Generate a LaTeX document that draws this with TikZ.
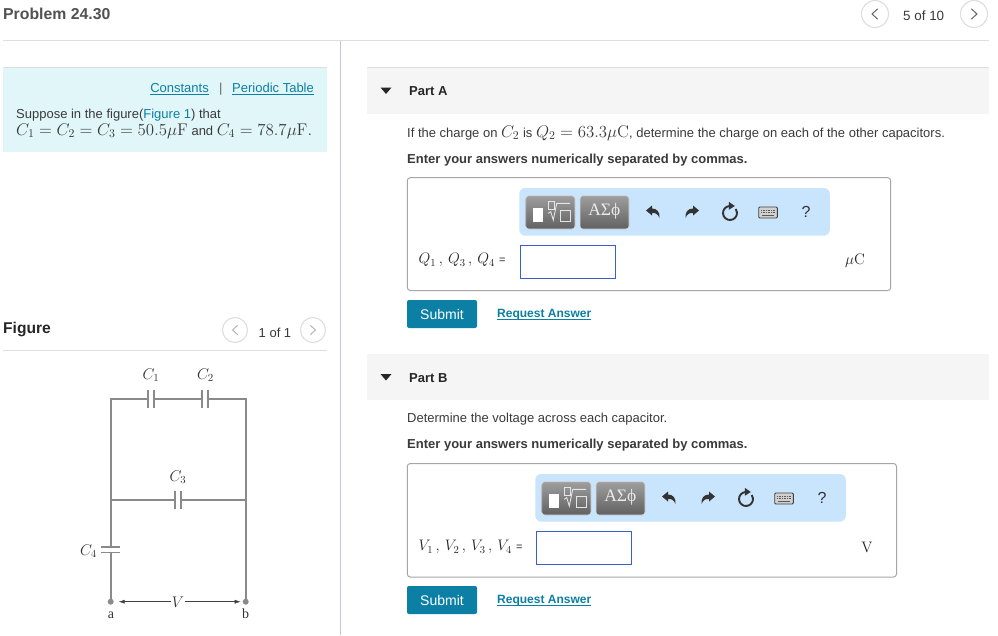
\documentclass[tikz,border=0pt]{standalone}
\usepackage{fix-cm}
\usepackage{amsmath}
\usepackage[no-math]{fontspec}
\setmainfont{Liberation Sans}
\newfontfamily\symfont{Liberation Serif}
\usepackage{tikz}
\usetikzlibrary{arrows.meta,calc,positioning}
\definecolor{linkblue}{HTML}{0B80A4}
\definecolor{bodygray}{HTML}{3A3A3A}
\definecolor{rulegray}{HTML}{DEDEDE}
\definecolor{wiregray}{HTML}{8A8A8A}
\definecolor{panelcyan}{HTML}{E1F6F8}
\definecolor{bandgray}{HTML}{F5F5F5}
\definecolor{barblue}{HTML}{C9E4FD}
\definecolor{inputblue}{HTML}{3A5FCD}
\tikzset{
    txt/.style = {anchor=west, inner sep=0pt, text=bodygray, font=\fontsize{13}{15}\selectfont},
    bold/.style = {txt, font=\fontsize{13}{15}\selectfont\bfseries},
    link/.style = {txt, text=linkblue},
    mathlab/.style = {inner sep=0pt, text=black!85, font=\fontsize{15.2}{17}\selectfont},
    circlab/.style = {inner sep=0pt, text=black!80, font=\fontsize{15.5}{17}\selectfont},
    wire/.style = {draw=wiregray, line width=2.2pt},
    thinwire/.style = {draw=wiregray, line width=1.5pt},
    plate/.style = {draw=wiregray, line width=1.9pt},
    rule/.style = {draw=rulegray, line width=1pt},
    band/.style = {fill=bandgray, draw=none},
    pager/.style = {circle, draw=rulegray, fill=white, line width=1.1pt, minimum size=#1, inner sep=0pt},
    chevron/.style = {draw=black!60, line width=1pt, line cap=round},
    fadedchevron/.style = {draw=black!28, line width=1pt, line cap=round},
    answerbox/.style = {draw=black!35, fill=white, rounded corners=3pt, line width=1pt},
    inputbox/.style = {draw=inputblue, fill=white, line width=1pt},
    submitbtn/.style = {fill=linkblue, rounded corners=2pt, text=white, minimum width=70pt, minimum height=28pt, inner sep=0pt, font=\fontsize{14}{16}\selectfont},
    toolbtn/.style = {top color=black!38, bottom color=black!62, draw=white!85!black, rounded corners=3pt, line width=0.6pt},
    undoicon/.pic = {
      \fill[black!80] (-7,-1.5) -- (-1,-6.5) -- (-1,-3.5) .. controls (4,-3.5) and (7,0) .. (6.5,6)
        .. controls (5,2.5) and (3,0.5) .. (-1,1) -- (-1,3.5) -- cycle;
    },
    toolbar/.pic = {
      \fill[barblue, rounded corners=6pt] (0,0) rectangle (310.5,47.7);
      \path[toolbtn] (6.4,7.7) rectangle (55.7,41);
      \path[toolbtn] (60.7,7.7) rectangle (109.7,41);
      % root button
      \fill[white] (13.4,19.7) rectangle (23.7,34);
      \draw[white!90!black, line width=0.7pt] (29.4,13.7) rectangle (34.7,21.3);
      \draw[white!90!black, line width=0.7pt] (41,22.7) rectangle (50.7,33.7);
      \draw[white!90!black, line width=0.9pt] (29,25.3) -- (31.4,23.7) -- (34,32) -- (37.4,15.3) -- (50.7,15.3);
      \node[text=white!92!black, inner sep=0pt, font=\symfont\fontsize{17.5}{18}\selectfont] (sym) at (85,23.5) {ΑΣϕ};
      % undo, redo
      \pic at (133.7,24) {undoicon};
      \pic[xscale=-1] at (172.7,24) {undoicon};
      % refresh
      \draw[black!80, line width=1.9pt] (210.7,25) ++(-95:7) arc (-95:-395:7);
      \fill[black!80] (209.5,13.8) -- (215.5,18) -- (209.5,21.8) -- cycle;
      % keyboard
      \draw[black!75, fill=black!18, rounded corners=1pt, line width=0.9pt] (239.4,19) rectangle (258,30);
      \draw[black!65, line width=0.8pt, dash pattern=on 1pt off 0.7pt] (241.5,22) -- (256,22);
      \draw[black!65, line width=0.8pt, dash pattern=on 1pt off 0.7pt] (241.5,24.5) -- (256,24.5);
      \draw[black!65, line width=0.8pt] (243,27.5) -- (254.5,27.5);
      \node[text=black!80, inner sep=0pt, font=\fontsize{16}{18}\selectfont] (help) at (286.7,23.5) {?};
    }
}
\newcommand{\ulink}[1]{\setbox0=\hbox{#1}\rlap{\rule[-1.6pt]{\wd0}{0.8pt}}\box0}
\newcommand{\mth}{\fontsize{16.9}{17}\selectfont}
\begin{document}
\begin{tikzpicture}[x=1pt,y=-1pt]
  \useasboundingbox[fill=white] (0,0) rectangle (998,635);

  % header
  \node[txt, font=\fontsize{15.8}{18}\selectfont\bfseries, text=black!68] (title) at (3,13.5) {Problem 24.30};
  \node[pager=27pt] (prev) at (875,14) {};
  \draw[chevron] (877.5,9) -- (872,14) -- (877.5,19);
  \node[txt, font=\fontsize{13.4}{15}\selectfont] (count) at (903,15.5) {5 of 10};
  \node[pager=27pt] (next) at (974,14) {};
  \draw[chevron] (971.5,9) -- (977,14) -- (971.5,19);
  \draw[rule] (3,40.5) -- (989,40.5);
  \draw[draw=blue!12!rulegray, line width=1pt] (340.5,41) -- (340.5,635);

  % left panel
  \fill[panelcyan] (3,67) rectangle (327,152);
  \draw[rule] (3,67.5) -- (327,67.5);
  \node[link, anchor=east] (constants) at (209,89) {\ulink{Constants}};
  \node[txt, text=black!60] (sep) at (219,89) {|};
  \node[link] (table) at (232,89) {\ulink{Periodic Table}};
  \node[txt] (suppose) at (16,115.5) {Suppose in the figure({\color{linkblue}Figure 1}) that};
  \node[txt, anchor=base west] (given) at (16,135) {{\mth $C_1=C_2=C_3=50.5\mu\mathrm{F}$} and {\mth $C_4=78.7\mu\mathrm{F}.$}};

  % figure header
  \node[txt, font=\fontsize{15.6}{18}\selectfont\bfseries, text=black!85] (figure) at (3,329) {Figure};
  \node[pager=25pt] (figprev) at (235,330) {};
  \draw[fadedchevron] (237.5,325.5) -- (232.5,330) -- (237.5,334.5);
  \node[txt] (figcount) at (258.5,333) {1 of 1};
  \node[pager=25pt] (fignext) at (313,330) {};
  \draw[fadedchevron] (310.5,325.5) -- (315.5,330) -- (310.5,334.5);
  \draw[rule] (3,350.5) -- (327,350.5);

  % circuit
  \coordinate (tl) at (110.7,399);
  \coordinate (tr) at (245.7,399);
  \coordinate (ml) at (110.7,500);
  \coordinate (mr) at (245.7,500);
  \coordinate (c1a) at (147.7,399);
  \coordinate (c1b) at (154,399);
  \coordinate (c2a) at (202.3,399);
  \coordinate (c2b) at (208.3,399);
  \coordinate (c3a) at (174.7,500);
  \coordinate (c3b) at (181,500);
  \coordinate (c4a) at (110.7,547.3);
  \coordinate (c4b) at (110.7,552.5);
  \node[circle, fill=wiregray, inner sep=0pt, minimum size=6pt] (a) at (110.7,601.7) {};
  \node[circle, fill=wiregray, inner sep=0pt, minimum size=6pt] (b) at (245.7,601.7) {};
  \draw[wire] (c4a) -- (tl) -- (c1a);
  \draw[wire] (c1b) -- (c2a);
  \draw[wire] (c2b) -- (tr) -- (b);
  \draw[wire] (c4b) -- (a);
  \draw[thinwire] (ml) -- (c3a);
  \draw[thinwire] (c3b) -- (mr);
  \foreach \c in {c1a,c1b,c2a,c2b,c3a,c3b}
    \draw[plate] ($(\c)+(0,-9.3)$) -- ($(\c)+(0,9.3)$);
  \foreach \c in {c4a,c4b}
    \draw[plate] ($(\c)+(-9.7,0)$) -- ($(\c)+(9.7,0)$);
  \node[circlab] (lc1) at (151,375) {$C_1$};
  \node[circlab] (lc2) at (205.5,375) {$C_2$};
  \node[circlab] (lc3) at (178,477.5) {$C_3$};
  \node[circlab] (lc4) at (88.5,551.5) {$C_4$};
  \node[circlab, anchor=base, font=\symfont\fontsize{14}{14}\selectfont] (la) at (111,618) {a};
  \node[circlab, anchor=base, font=\symfont\fontsize{14}{14}\selectfont] (lb) at (245.7,618) {b};
  \node[circlab, fill=white, inner xsep=1pt] (lv) at (178,601.7) {$V$};
  \draw[black!75, line width=0.5pt, -{Latex[length=6pt,width=4pt]}] (lv) -- ($(a)+(8,0)$);
  \draw[black!75, line width=0.5pt, -{Latex[length=6pt,width=4pt]}] (lv) -- ($(b)+(-5,0)$);

  % part A
  \path[band] (367,67) rectangle (989,114);
  \draw[rule, line width=0.6pt] (367,67.5) -- (989,67.5);
  \fill[black!85] (380.5,87.5) -- (391.5,87.5) -- (386,94) -- cycle;
  \node[bold, text=black!85] (parta) at (409,91.5) {Part A};
  \node[txt, anchor=base west] (qa) at (407,137) {If the charge on {\mth $C_2$} is {\mth $Q_2=63.3\mu\mathrm{C}$}, determine the charge on each of the other capacitors.};
  \node[bold] (enta) at (407,160) {Enter your answers numerically separated by commas.};
  \path[answerbox] (407.3,177.7) rectangle (890.7,290.5);
  \pic at (519.3,188) {toolbar};
  \node[mathlab] (qlab) [anchor=west] at (418.5,260) {$Q_1\,,\,Q_3\,,\,Q_4$ {\fontsize{11}{13}\selectfont =}};
  \path[inputbox] (520.5,245.5) rectangle (615.5,278.5);
  \node[mathlab] (qunit) at (855,261) {$\mu\mathrm{C}$};
  \node[submitbtn] (suba) at (442,314) {Submit};
  \node[link, font=\fontsize{12}{15}\selectfont\bfseries] (reqa) at (497,315) {\ulink{Request Answer}};

  % part B
  \path[band] (367,354) rectangle (989,400);
  \fill[black!85] (380.5,374) -- (391.5,374) -- (386,380.5) -- cycle;
  \node[bold, text=black!85] (partb) at (409,378) {Part B};
  \node[txt] (qb) at (407,419.5) {Determine the voltage across each capacitor.};
  \node[bold] (entb) at (407,445.5) {Enter your answers numerically separated by commas.};
  \path[answerbox] (407.3,463.5) rectangle (896.5,577);
  \pic at (535.3,474) {toolbar};
  \node[mathlab] (vlab) [anchor=west] at (418.5,547) {$V_1\,,\,V_2\,,\,V_3\,,\,V_4$ {\fontsize{11}{13}\selectfont =}};
  \path[inputbox] (536.5,531.5) rectangle (631.5,564.5);
  \node[mathlab] (vunit) at (867,547) {$\mathrm{V}$};
  \node[submitbtn] (subb) at (442,600) {Submit};
  \node[link, font=\fontsize{12}{15}\selectfont\bfseries] (reqb) at (497,601) {\ulink{Request Answer}};
\end{tikzpicture}
\end{document}
